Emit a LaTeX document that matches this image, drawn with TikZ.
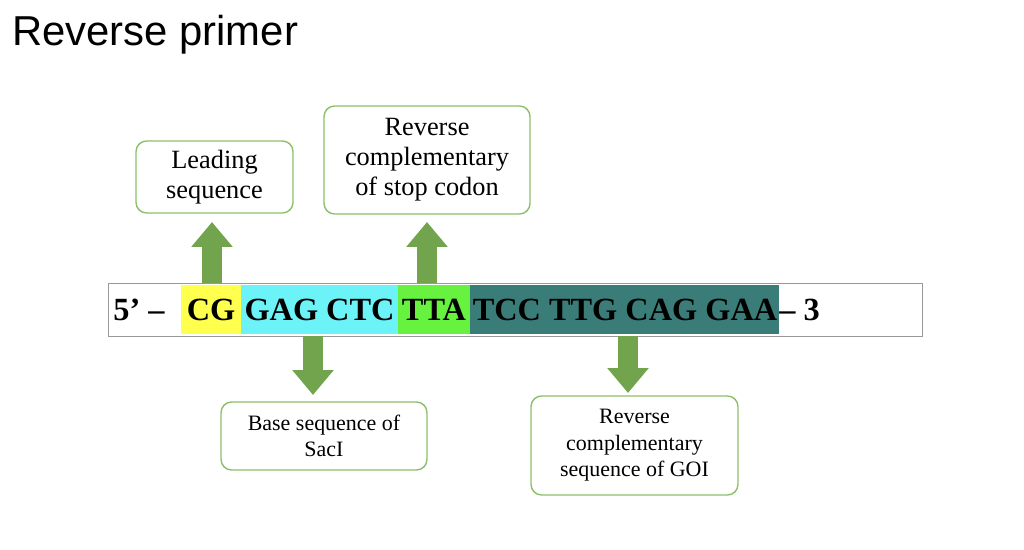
\documentclass[tikz,border=0pt]{standalone}
\usepackage{fontspec}
\setmainfont{Liberation Serif}
\newfontfamily\titlefont{Liberation Sans}
\usetikzlibrary{positioning,arrows.meta}
\definecolor{boxgreen}{HTML}{8CBF6A}
\definecolor{arrowgreen}{HTML}{71A44C}
\definecolor{leadyellow}{HTML}{FFFF4D}
\definecolor{saccyan}{HTML}{6CF3F7}
\definecolor{stopgreen}{HTML}{66F23F}
\definecolor{goiteal}{HTML}{3A7C78}
\tikzset{
  infobox/.style = {rectangle, draw = boxgreen, line width = 0.8pt, rounded corners = 6pt, align = center, inner sep = 0pt},
  blockarrow/.style = {draw = arrowgreen, line width = 0.4cm, -{Triangle[width=0.8cm,length=0.5cm]}},
  seqpart/.style = {rectangle, inner sep = 0pt, minimum height = 0.96cm, font = \bfseries\fontsize{18.4}{20}\selectfont}
}
\begin{document}
\begin{tikzpicture}[x=0.02cm, y=-0.02cm]
        \useasboundingbox (0,0) rectangle (1024,550);
        \node[anchor = west, font = \titlefont\fontsize{23.8}{26}\selectfont] (title) at (6,35) {Reverse primer};

        \node[rectangle, draw = black!40, minimum width = 16.28cm, minimum height = 1.06cm] (bar) at (515,309.5) {};
        \fill[leadyellow] (181,285) rectangle (241,334);
        \fill[saccyan] (241,285) rectangle (398,334);
        \fill[stopgreen] (398,285) rectangle (470,334);
        \fill[goiteal] (470,285) rectangle (779,334);
        \node[seqpart, anchor = west] (five) at (113,309.5) {5’ –};
        \node[seqpart] (lead) at (211,309.5) {CG};
        \node[seqpart] (sac) at (319.5,309.5) {GAG CTC};
        \node[seqpart] (stop) at (434,309.5) {TTA};
        \node[seqpart] (goi) at (625,309.5) {TCC TTG CAG GAA};
        \node[seqpart, anchor = west] (three) at (779,309.5) {– 3};

        \node[infobox, minimum width = 3.14cm, minimum height = 1.44cm, font = \fontsize{15}{17}\selectfont] (leadBox) at (214.5,177) {Leading\\sequence};
        \node[infobox, minimum width = 4.12cm, minimum height = 2.16cm, font = \fontsize{15}{17}\selectfont] (stopBox) at (427,160) {Reverse\\complementary\\of stop codon};
        \node[infobox, minimum width = 4.12cm, minimum height = 1.36cm, font = \fontsize{12.5}{15}\selectfont] (sacBox) at (324,436) {Base sequence of\\SacI};
        \node[infobox, minimum width = 4.14cm, minimum height = 1.98cm, font = \fontsize{12.5}{15}\selectfont] (goiBox) at (634.5,445.5) {Reverse\\complementary\\sequence of GOI};

        \coordinate (leadStart) at (212,283);
        \coordinate (leadEnd) at (212,222);
        \coordinate (stopStart) at (427,283);
        \coordinate (stopEnd) at (427,222);
        \coordinate (sacStart) at (313,336);
        \coordinate (sacEnd) at (313,395);
        \coordinate (goiStart) at (628,336);
        \coordinate (goiEnd) at (628,393);

        \draw[blockarrow] (leadStart) -- (leadEnd);
        \draw[blockarrow] (stopStart) -- (stopEnd);
        \draw[blockarrow] (sacStart) -- (sacEnd);
        \draw[blockarrow] (goiStart) -- (goiEnd);
      \end{tikzpicture}
\end{document}
